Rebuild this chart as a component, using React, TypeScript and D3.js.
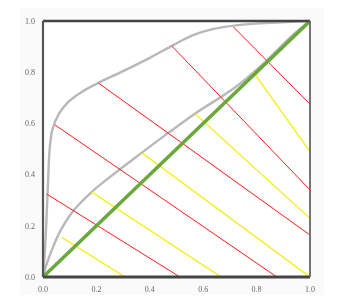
import React from "react";
import * as d3 from "d3";

const xTicks = [0, 0.2, 0.4, 0.6, 0.8, 1.0];
const yTicks = [0, 0.2, 0.4, 0.6, 0.8, 1.0];

// upper gray curve [x, y]
const upperCurve: [number, number][] = [
  [0, 0], [0.007, 0.1], [0.012, 0.2], [0.016, 0.3], [0.02, 0.4], [0.025, 0.5],
  [0.035, 0.575], [0.06, 0.638], [0.095, 0.684], [0.145, 0.723], [0.207, 0.758],
  [0.3, 0.804], [0.4, 0.856], [0.488, 0.906], [0.56, 0.944], [0.64, 0.969],
  [0.73, 0.984], [0.85, 0.993], [1, 1],
];

// lower gray curve [x, y]
const lowerCurve: [number, number][] = [
  [0, 0], [0.012, 0.045], [0.033, 0.105], [0.064, 0.178], [0.113, 0.258], [0.18, 0.33],
  [0.25, 0.39], [0.363, 0.48], [0.463, 0.558], [0.569, 0.638], [0.719, 0.74],
  [0.806, 0.815], [0.86, 0.868], [0.93, 0.94], [1, 1],
];

// red segments: [x1, y1, x2, y2]
const redLines: [number, number, number, number][] = [
  [0.014, 0.324, 0.513, 0],
  [0.045, 0.594, 0.876, 0],
  [0.207, 0.758, 1, 0.164],
  [0.482, 0.903, 1, 0.34],
  [0.713, 0.977, 1, 0.675],
];

// yellow segments: [x1, y1, x2, y2]
const yellowLines: [number, number, number, number][] = [
  [0.07, 0.155, 0.307, 0],
  [0.182, 0.332, 0.667, 0],
  [0.37, 0.485, 1, 0],
  [0.569, 0.638, 1, 0.229],
  [0.788, 0.8, 1, 0.49],
];

export default function App() {
  const W = 359, H = 301;
  const x = d3.scaleLinear().domain([0, 1]).range([43, 310]);
  const y = d3.scaleLinear().domain([0, 1]).range([277, 21]);
  const line = d3.line<[number, number]>()
    .x((d) => x(d[0]))
    .y((d) => y(d[1]))
    .curve(d3.curveCatmullRom.alpha(0.5));
  const fmt = d3.format(".1f");

  return (
    <svg width={W} height={H} style={{ position: "absolute", left: 0, top: 0 }}>
      <defs>
        <filter id="blur" x="-10%" y="-10%" width="120%" height="120%">
          <feGaussianBlur stdDeviation="0.6" />
        </filter>
        <filter id="blurt" x="-10%" y="-10%" width="120%" height="120%">
          <feGaussianBlur stdDeviation="0.35" />
        </filter>
      </defs>
      <rect x={0} y={0} width={W} height={H} fill="#ffffff" />
      <rect x={20} y={8} width={304} height={287} fill="#fafafa" />
      <rect x={x(0)} y={y(1)} width={x(1) - x(0)} height={y(0) - y(1)} fill="#ffffff" />
      <g filter="url(#blur)">
        <path d={line(upperCurve) || ""} fill="none" stroke="#b8b8b8" strokeWidth={2.4} />
        <path d={line(lowerCurve) || ""} fill="none" stroke="#b8b8b8" strokeWidth={2.4} />
      </g>
      {redLines.map((s, i) => (
        <line key={"r" + i} x1={x(s[0])} y1={y(s[1])} x2={x(s[2])} y2={y(s[3])} stroke="#ff1a1a" strokeWidth={1} />
      ))}
      {yellowLines.map((s, i) => (
        <line key={"y" + i} x1={x(s[0])} y1={y(s[1])} x2={x(s[2])} y2={y(s[3])} stroke="#f2ee00" strokeWidth={1.2} />
      ))}
      <line x1={x(0)} y1={y(0)} x2={x(1)} y2={y(1)} stroke="#6aa83c" strokeWidth={3.5} />
      <g filter="url(#blur)">
        <line x1={x(0)} y1={y(1)} x2={x(1)} y2={y(1)} stroke="#444" strokeWidth={2.6} />
        <line x1={x(0)} y1={y(0)} x2={x(1)} y2={y(0)} stroke="#444" strokeWidth={2.8} />
        <line x1={x(0)} y1={y(0)} x2={x(0)} y2={y(1)} stroke="#555" strokeWidth={2.2} />
        <line x1={x(1)} y1={y(0)} x2={x(1)} y2={y(1)} stroke="#666" strokeWidth={1.8} />
      </g>
      <g fontFamily="Liberation Serif, DejaVu Serif, serif" fontSize={8} fill="#666" filter="url(#blurt)">
        {yTicks.map((t) => (
          <text key={"yt" + t} x={35} y={y(t)} dy="0.35em" textAnchor="end">{fmt(t)}</text>
        ))}
        {xTicks.map((t) => (
          <text key={"xt" + t} x={x(t)} y={289} dy="0.35em" textAnchor="middle">{fmt(t)}</text>
        ))}
      </g>
    </svg>
  );
}
